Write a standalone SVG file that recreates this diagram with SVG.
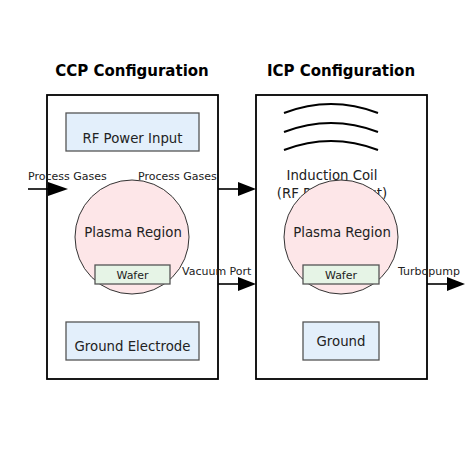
<svg xmlns="http://www.w3.org/2000/svg" width="474" height="474" viewBox="0 0 474 474">
<defs>
<style>
text{font-family:"DejaVu Sans","Liberation Sans",sans-serif;fill:#222;}
.title{font-size:15px;font-weight:bold;fill:#000;text-anchor:middle;}
.chamber{fill:none;stroke:#000;stroke-width:1.8;}
.elec{fill:#e3effb;stroke:#555;stroke-width:1.3;}
.plasma{fill:#fde6e8;stroke:#333;stroke-width:1;}
.wafer{fill:#e6f4e6;stroke:#555;stroke-width:1.3;}
.lbl{font-size:13.3px;text-anchor:middle;}
.small{font-size:11px;text-anchor:middle;}
.flow{font-size:11px;}
.conn{stroke:#000;stroke-width:1.6;fill:none;}
.coil{stroke:#000;stroke-width:2;fill:none;}
.head{fill:#000;}
</style>
</defs>
<rect width="474" height="474" fill="#fff"/>
<text class="title" x="132" y="76">CCP Configuration</text>
<text class="title" x="341" y="76">ICP Configuration</text>
<g id="ccp-chamber"><rect class="chamber" x="47" y="95" width="171" height="284"/></g>
<g id="icp-chamber"><rect class="chamber" x="256" y="95" width="171" height="284"/></g>
<g id="rf-power"><rect class="elec" x="66" y="113" width="133" height="38"/><text class="lbl" x="132.5" y="143">RF Power Input</text></g>
<g id="ground-electrode"><rect class="elec" x="66" y="322" width="133" height="38"/><text class="lbl" x="132.5" y="351">Ground Electrode</text></g>
<g id="ground"><rect class="elec" x="303" y="322" width="76" height="38"/><text class="lbl" x="341" y="346">Ground</text></g>
<g id="induction-coil">
<path class="coil" d="M284,113 Q331,95 378,113"/>
<path class="coil" d="M284,132 Q331,114 378,132"/>
<path class="coil" d="M284,150 Q331,132 378,150"/>
<text class="lbl" x="332" y="180">Induction Coil</text>
<text class="lbl" x="332" y="198">(RF Power Input)</text>
</g>
<g id="ccp-plasma"><circle class="plasma" cx="132" cy="237" r="57"/><text class="lbl" x="133" y="237">Plasma Region</text></g>
<g id="icp-plasma"><circle class="plasma" cx="341" cy="237" r="57"/><text class="lbl" x="342" y="237">Plasma Region</text></g>
<g id="ccp-wafer"><rect class="wafer" x="95" y="265" width="75" height="19"/><text class="small" x="132.5" y="279">Wafer</text></g>
<g id="icp-wafer"><rect class="wafer" x="303" y="265" width="76" height="19"/><text class="small" x="341" y="279">Wafer</text></g>
<g id="connectors">
<line class="conn" x1="28" y1="189" x2="50" y2="189"/>
<polygon class="head" points="48,182 68,189 48,196"/>
<line class="conn" x1="218" y1="189" x2="240" y2="189"/>
<polygon class="head" points="238,182 256,189 238,196"/>
<line class="conn" x1="218" y1="284" x2="240" y2="284"/>
<polygon class="head" points="238,277 256,284 238,291"/>
<line class="conn" x1="427" y1="284" x2="450" y2="284"/>
<polygon class="head" points="447,277 465,284 447,291"/>
<text class="flow" x="28" y="180">Process Gases</text>
<text class="flow" x="138" y="180">Process Gases</text>
<text class="flow" x="182" y="275">Vacuum Port</text>
<text class="flow" x="398" y="275">Turbopump</text>
</g>
</svg>
